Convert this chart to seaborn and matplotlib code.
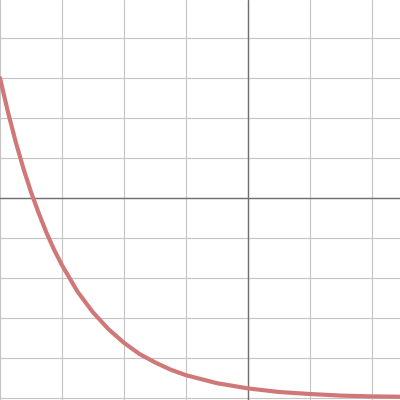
import matplotlib
matplotlib.use("Agg")
import matplotlib.pyplot as plt
import seaborn as sns
import pandas as pd

xs = [-4, -3.875, -3.75, -3.625, -3.5, -3.375, -3.25, -3.125, -3, -2.75, -2.5, -2.25, -2,
      -1.75, -1.5, -1.25, -1, -0.5, 0, 0.5, 1, 1.5, 2, 2.5]
ys = [3.0, 2.17, 1.42, 0.75, 0.15, -0.38, -0.87, -1.30, -1.68, -2.34, -2.86, -3.28, -3.62,
      -3.90, -4.11, -4.29, -4.43, -4.63, -4.76, -4.85, -4.90, -4.94, -4.96, -4.97]

sns.set_theme(style="white")
fig = plt.figure(figsize=(4, 4), dpi=100)
ax = fig.add_axes([0, 0, 1, 1])
ax.set_xlim(-4, 400/62 - 4)
ax.set_ylim(-(400-198)/40, 198/40)
for gx in range(-4, 3):
    ax.axvline(gx, color="#c4c4c4", lw=0.8, zorder=0)
for gy in range(-5, 5):
    ax.axhline(gy, color="#c4c4c4", lw=0.8, zorder=0)
ax.axvline(0, color="#707070", lw=1.0, zorder=1)
ax.axhline(0, color="#707070", lw=1.0, zorder=1)
sns.lineplot(data=pd.DataFrame({"x": xs, "y": ys}), x="x", y="y", ax=ax,
             color="#d07878", lw=3, zorder=2)
ax.set_xticks([]); ax.set_yticks([])
ax.set_xlabel(""); ax.set_ylabel("")
for s in ax.spines.values():
    s.set_visible(False)
fig.savefig("out.png", dpi=100)
